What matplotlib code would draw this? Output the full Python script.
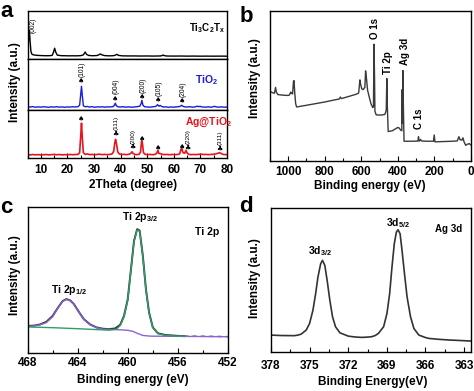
import matplotlib
matplotlib.use("Agg")
import matplotlib.pyplot as plt
from matplotlib.ticker import MultipleLocator

plt.rcParams['font.family'] = ['Liberation Sans', 'DejaVu Sans']
plt.rcParams['font.weight'] = 'bold'
plt.rcParams['mathtext.fontset'] = 'custom'
plt.rcParams['mathtext.rm'] = 'Liberation Sans:bold'
plt.rcParams['mathtext.it'] = 'Liberation Sans:bold'
plt.rcParams['mathtext.bf'] = 'Liberation Sans:bold'
plt.rcParams['mathtext.default'] = 'rm'

# ---- (a) XRD patterns, (2theta, normalised intensity)
ti3c2_pattern = [(5.0, 0.12), (5.35, 0.35), (5.7, 0.6), (6.0, 0.35), (6.3, 0.15), (6.7, 0.09),
                 (7.5, 0.078), (8.5, 0.07), (10.0, 0.066), (12.0, 0.062), (13.5, 0.064),
                 (14.3, 0.07), (14.8, 0.14), (15.2, 0.22), (15.6, 0.14), (16.2, 0.075),
                 (17.5, 0.064), (19.0, 0.062), (20.5, 0.06), (22.0, 0.061), (23.5, 0.06),
                 (25.0, 0.064), (26.0, 0.08), (26.7, 0.14), (27.2, 0.09), (28.0, 0.068),
                 (29.5, 0.062), (31.0, 0.066), (31.8, 0.08), (32.4, 0.10), (33.0, 0.08),
                 (34.0, 0.065), (35.5, 0.06), (37.0, 0.062), (37.9, 0.07), (38.6, 0.092),
                 (39.2, 0.07), (40.5, 0.06), (42.5, 0.058), (45.0, 0.058), (47.5, 0.056),
                 (50.0, 0.057), (52.5, 0.055), (55.0, 0.058), (55.6, 0.065), (56.0, 0.078),
                 (56.4, 0.064), (57.5, 0.056), (60.0, 0.055), (62.5, 0.056), (65.0, 0.054),
                 (67.5, 0.055), (70.0, 0.053), (72.5, 0.054), (75.0, 0.053), (77.5, 0.054),
                 (80.0, 0.053)]

tio2_pattern = [(5, 0.06), (6, 0.055), (7, 0.062), (8, 0.05), (9, 0.058), (10, 0.052), (11, 0.06),
                (12, 0.054), (13, 0.05), (14, 0.058), (15, 0.053), (16, 0.06), (17, 0.052),
                (18, 0.057), (19, 0.05), (20, 0.056), (21, 0.053), (22, 0.06), (23, 0.055),
                (24, 0.062), (24.6, 0.09), (25.0, 0.30), (25.3, 0.46), (25.6, 0.28), (26.0, 0.08),
                (26.6, 0.06), (27.4, 0.065), (28.3, 0.055), (29.2, 0.062), (30.2, 0.05),
                (31.2, 0.058), (32.2, 0.054), (33.1, 0.06), (34.0, 0.052), (35.0, 0.058),
                (36.0, 0.056), (37.2, 0.062), (37.7, 0.09), (38.0, 0.13), (38.4, 0.08),
                (39.0, 0.058), (40.0, 0.055), (41.0, 0.06), (42.0, 0.052), (43.0, 0.058),
                (44.0, 0.05), (45.0, 0.056), (46.0, 0.06), (47.2, 0.07), (47.7, 0.12),
                (48.0, 0.186), (48.4, 0.09), (49.0, 0.06), (50.0, 0.055), (51.0, 0.052),
                (52.0, 0.058), (53.2, 0.065), (53.9, 0.10), (54.4, 0.07), (54.8, 0.085),
                (55.1, 0.08), (55.5, 0.062), (56.2, 0.055), (57.0, 0.058), (58.0, 0.05),
                (59.0, 0.056), (60.0, 0.052), (61.0, 0.058), (62.0, 0.062), (62.6, 0.075),
                (63.0, 0.088), (63.4, 0.07), (64.0, 0.058), (65.0, 0.055), (66.0, 0.06),
                (67.0, 0.052), (68.0, 0.056), (68.8, 0.07), (69.3, 0.062), (69.9, 0.068),
                (70.4, 0.058), (71.0, 0.055), (72.0, 0.052), (73.0, 0.058), (74.0, 0.05),
                (74.8, 0.06), (75.3, 0.068), (76.0, 0.056), (77.0, 0.052), (78.0, 0.058),
                (79.0, 0.05), (80.0, 0.055)]

ag_tio2_pattern = [(5, 0.06), (6, 0.055), (7, 0.062), (8, 0.056), (9, 0.06), (10, 0.053),
                   (11, 0.058), (12, 0.062), (13, 0.055), (14, 0.06), (15, 0.065), (16, 0.058),
                   (17, 0.062), (18, 0.055), (19, 0.06), (20, 0.057), (21, 0.063), (22, 0.058),
                   (23, 0.062), (24, 0.065), (24.6, 0.1), (25.0, 0.45), (25.3, 0.72),
                   (25.6, 0.42), (26.0, 0.1), (26.7, 0.065), (27.5, 0.075), (28.4, 0.06),
                   (29.3, 0.065), (30.2, 0.058), (31.1, 0.063), (32.0, 0.07), (33.0, 0.06),
                   (34.0, 0.064), (35.0, 0.06), (36.0, 0.066), (36.8, 0.075), (37.4, 0.13),
                   (37.8, 0.30), (38.1, 0.38), (38.5, 0.28), (38.9, 0.12), (39.5, 0.075),
                   (40.4, 0.062), (41.3, 0.066), (42.2, 0.06), (43.2, 0.068), (43.8, 0.085),
                   (44.3, 0.12), (44.7, 0.085), (45.3, 0.065), (46.2, 0.06), (47.0, 0.068),
                   (47.5, 0.12), (47.9, 0.35), (48.2, 0.30), (48.6, 0.1), (49.3, 0.065),
                   (50.2, 0.06), (51.1, 0.065), (52.0, 0.058), (53.0, 0.066), (53.6, 0.09),
                   (54.0, 0.15), (54.4, 0.085), (55.0, 0.08), (55.5, 0.07), (56.4, 0.06),
                   (57.4, 0.064), (58.4, 0.058), (59.4, 0.063), (60.4, 0.06), (61.4, 0.064),
                   (62.2, 0.075), (62.7, 0.17), (63.0, 0.185), (63.5, 0.1), (64.1, 0.09),
                   (64.6, 0.15), (65.0, 0.095), (65.7, 0.065), (66.6, 0.06), (67.5, 0.064),
                   (68.4, 0.06), (69.3, 0.066), (70.2, 0.07), (71.1, 0.062), (72.0, 0.065),
                   (73.0, 0.06), (74.0, 0.064), (75.0, 0.068), (75.8, 0.075), (76.6, 0.09),
                   (77.2, 0.10), (77.8, 0.085), (78.5, 0.065), (79.3, 0.06), (80.0, 0.062)]

# peak markers / Miller indices (label values = bottom end of the rotated label)
tio2_peak_x = [25.2, 38.0, 48.0, 53.9, 63.1]
tio2_mark_y = [0.57, 0.22, 0.245, 0.185, 0.18]
tio2_hkl = ['(101)', '(004)', '(200)', '(105)', '(204)']
tio2_hkl_y = [0.65, 0.30, 0.33, 0.27, 0.26]

ag_anatase_x = [25.2, 48.0, 53.9, 62.9]
ag_anatase_y = [0.80, 0.39, 0.19, 0.21]
ag_peak_x = [38.2, 44.3, 65.0, 77.2]
ag_mark_y = [0.49, 0.21, 0.20, 0.175]
ag_hkl = ['(111)', '(200)', '(220)', '(311)']
ag_hkl_y = [0.58, 0.29, 0.28, 0.26]

# ---- (b) XPS survey, (binding energy, intensity)
survey = [(1100, 0.455), (1090, 0.458), (1080, 0.452), (1074, 0.451), (1068, 0.49), (1064, 0.46),
          (1056, 0.442), (1030, 0.438), (1000, 0.436), (993, 0.438), (985, 0.458), (981, 0.45),
          (975, 0.446), (970, 0.53), (967, 0.535), (963, 0.45), (958, 0.38), (953, 0.359),
          (900, 0.37), (850, 0.381), (800, 0.392), (750, 0.405), (720, 0.412), (714, 0.425),
          (708, 0.415), (660, 0.432), (625, 0.445), (614, 0.452), (607, 0.54), (603, 0.51),
          (597, 0.48), (590, 0.475), (580, 0.49), (576, 0.6), (572, 0.56), (565, 0.47),
          (555, 0.42), (546, 0.378), (537, 0.355), (533, 0.36), (530, 0.778), (527, 0.55),
          (525, 0.33), (518, 0.306), (490, 0.305), (471, 0.309), (466, 0.325), (463, 0.34),
          (460, 0.549), (458, 0.4), (456, 0.32), (452.6, 0.195), (430, 0.2), (410, 0.215),
          (400, 0.222), (392, 0.218), (385, 0.205), (378, 0.2), (377, 0.474), (374, 0.25),
          (372, 0.602), (370, 0.4), (366, 0.13), (320, 0.13), (290, 0.131), (287, 0.16),
          (283, 0.131), (275, 0.142), (271, 0.132), (240, 0.13), (205, 0.13), (201, 0.172),
          (197, 0.126), (150, 0.128), (100, 0.13), (75, 0.132), (66, 0.16), (60, 0.14),
          (56, 0.14), (50, 0.137), (44, 0.153), (38, 0.126), (29, 0.103), (20, 0.11),
          (10, 0.114), (0, 0.105)]
survey_labels = ['O 1s', 'Ti 2p', 'Ag 3d', 'C 1s']
survey_label_x = [527, 453, 359, 285]
survey_label_y = [0.81, 0.58, 0.64, 0.21]

# ---- (c) Ti 2p
ti2p_measured = [(468, 0.182), (467.5, 0.184), (467, 0.192), (466.5, 0.21), (466, 0.25),
                 (465.6, 0.303), (465.2, 0.352), (464.9, 0.366), (464.6, 0.357), (464.3, 0.332),
                 (463.9, 0.278), (463.5, 0.228), (463.0, 0.192), (462.5, 0.172), (462, 0.163),
                 (461.5, 0.16), (461.0, 0.165), (460.6, 0.19), (460.3, 0.25), (460.0, 0.365),
                 (459.75, 0.565), (459.5, 0.765), (459.25, 0.845), (459.05, 0.835),
                 (458.8, 0.665), (458.55, 0.435), (458.3, 0.275), (458.0, 0.172),
                 (457.6, 0.132), (457.0, 0.12), (456, 0.114), (455.5, 0.112)]
ti2p_tail = [(455.5, 0.112), (454, 0.111), (453, 0.11), (452, 0.109)]
ti2p_half = [(468, 0.18), (467.5, 0.182), (467, 0.19), (466.5, 0.205), (466, 0.245), (465.6, 0.3),
             (465.2, 0.35), (464.9, 0.364), (464.6, 0.355), (464.3, 0.33), (463.9, 0.275),
             (463.5, 0.225), (463.0, 0.19), (462.5, 0.17), (462, 0.16), (461.2, 0.157),
             (460.5, 0.155), (460, 0.152), (459.6, 0.145), (459.2, 0.13), (458.8, 0.117),
             (458.2, 0.112), (455, 0.11), (452, 0.108)]
ti2p_three_half = [(468, 0.175), (466, 0.17), (464, 0.163), (462.5, 0.157), (461.5, 0.153),
                   (460.9, 0.16), (460.6, 0.185), (460.3, 0.245), (460.0, 0.36), (459.75, 0.56),
                   (459.5, 0.76), (459.25, 0.84), (459.05, 0.83), (458.8, 0.66), (458.55, 0.43),
                   (458.3, 0.27), (458.0, 0.17), (457.6, 0.13), (457.0, 0.118), (456.3, 0.113),
                   (455.5, 0.111)]

# ---- (d) Ag 3d
ag3d = [(378, 0.117), (377.2, 0.114), (376.2, 0.113), (375.9, 0.117), (375.65, 0.124),
        (375.26, 0.152), (375.0, 0.198), (374.74, 0.29), (374.53, 0.405), (374.35, 0.52),
        (374.14, 0.611), (374.0, 0.634), (373.82, 0.60), (373.64, 0.497), (373.43, 0.359),
        (373.22, 0.244), (372.99, 0.175), (372.65, 0.133), (372.0, 0.11), (371.5, 0.104),
        (370.95, 0.101), (370.5, 0.103), (370.17, 0.106), (369.9, 0.114), (369.65, 0.129),
        (369.25, 0.175), (368.99, 0.267), (368.78, 0.405), (368.6, 0.589), (368.42, 0.749),
        (368.26, 0.83), (368.13, 0.846), (367.97, 0.818), (367.82, 0.703), (367.63, 0.543),
        (367.43, 0.382), (367.16, 0.244), (366.9, 0.163), (366.51, 0.117), (366.0, 0.1),
        (365.73, 0.094), (365.0, 0.088), (364.16, 0.083), (363.4, 0.08), (362.5, 0.076)]

W, H = 474, 391


def box(left, top, right, bottom):
    # pixel box of the picture -> figure fraction
    return [left / W, 1 - bottom / H, (right - left) / W, (bottom - top) / H]


def style(ax, labels=True):
    for s in ax.spines.values():
        s.set_linewidth(1.0)
    ax.set_yticks([])
    ax.tick_params(axis='x', which='both', direction='in', top=False,
                   width=0.8, labelsize=8.5, labelbottom=labels, bottom=labels)
    ax.tick_params(axis='x', which='major', length=3.5)
    ax.tick_params(axis='x', which='minor', length=2)


fig = plt.figure(figsize=(4.74, 3.91), dpi=100)

# ---------- panel a
a1 = fig.add_axes(box(27.5, 11, 227, 58.7))
a2 = fig.add_axes(box(27.5, 58.7, 227, 109.8))
a3 = fig.add_axes(box(27.5, 109.8, 227, 157.5))
for ax in (a1, a2, a3):
    ax.set_xlim(5, 80)
    ax.set_ylim(0, 1)
style(a1, False)
style(a2, False)
style(a3)
a3.xaxis.set_major_locator(MultipleLocator(10))
a3.xaxis.set_minor_locator(MultipleLocator(5))
a3.tick_params(axis='x', pad=5)

x, y = zip(*ti3c2_pattern)
a1.plot(x, y, color='black', lw=1.0)
a1.text(7.1, 0.7, '(002)', rotation=90, fontsize=4.8, weight='normal', ha='center', va='center')
a1.text(72.3, 0.65, r'Ti$_3$C$_2$T$_x$', fontsize=7, ha='center', va='center')

x, y = zip(*tio2_pattern)
a2.plot(x, y, color='#1a1adc', lw=1.0)
a2.text(72.2, 0.59, r'TiO$_2$', fontsize=7.5, color='#1a1adc', ha='center', va='center')
for i in range(len(tio2_peak_x)):
    a2.text(tio2_peak_x[i], tio2_mark_y[i], '♠', family=['DejaVu Sans'], fontsize=5,
            ha='center', va='center')
    a2.text(tio2_peak_x[i] + 0.4, tio2_hkl_y[i], tio2_hkl[i], rotation=90, fontsize=4.8,
            weight='normal', ha='center', va='bottom')

x, y = zip(*ag_tio2_pattern)
a3.plot(x, y, color='#e8141c', lw=1.2)
a3.text(73.2, 0.73, r'Ag@TiO$_2$', fontsize=7.5, color='#e8141c', ha='center', va='center')
for i in range(len(ag_anatase_x)):
    a3.text(ag_anatase_x[i], ag_anatase_y[i], '♠', family=['DejaVu Sans'], fontsize=5,
            ha='center', va='center')
for i in range(len(ag_peak_x)):
    a3.text(ag_peak_x[i], ag_mark_y[i], '♣', family=['DejaVu Sans'], fontsize=5,
            ha='center', va='center')
    a3.text(ag_peak_x[i] + 0.3, ag_hkl_y[i], ag_hkl[i], rotation=90, fontsize=4.6,
            weight='normal', ha='center', va='bottom')

fig.text(15 / W, 1 - 82 / H, 'Intensity (a.u.)', rotation=90, fontsize=8.5, ha='center', va='center')
fig.text(133 / W, 1 - 185 / H, '2Theta (degree)', fontsize=8.5, ha='center', va='center')
fig.text(0, 1 - 17 / H, 'a', fontsize=16, va='baseline')

# ---------- panel b
b = fig.add_axes(box(269.7, 11, 471, 160.7))
style(b)
x, y = zip(*survey)
b.plot(x, y, color='#3a3a3a', lw=1.0)
b.set_xlim(1100, 0)
b.set_ylim(0, 1)
b.xaxis.set_major_locator(MultipleLocator(200))
b.xaxis.set_minor_locator(MultipleLocator(100))
b.tick_params(axis='x', pad=4)
for i in range(len(survey_labels)):
    b.text(survey_label_x[i], survey_label_y[i], survey_labels[i], rotation=90, fontsize=7,
           ha='center', va='bottom')
fig.text(255.3 / W, 1 - 78 / H, 'Intensity (a.u.)', rotation=90, fontsize=8.5, ha='center', va='center')
fig.text(370 / W, 1 - 185.7 / H, 'Binding energy (eV)', fontsize=8.5, ha='center', va='center')
fig.text(240 / 474, 1 - 21.5 / H, 'b', fontsize=16, va='baseline')

# ---------- panel c
c = fig.add_axes(box(27.5, 206.5, 228, 352.5))
style(c)
x, y = zip(*ti2p_measured)
c.plot(x, y, color='#333333', lw=1.4)
x, y = zip(*ti2p_tail)
c.plot(x, y, color='#333333', lw=1.0, ls=(0, (3, 3)))
x, y = zip(*ti2p_half)
c.plot(x, y, color='#8a63d2', lw=1.0)
x, y = zip(*ti2p_three_half)
c.plot(x, y, color='#2e9e6a', lw=1.0)
c.set_xlim(468, 452)
c.set_ylim(0, 1)
c.xaxis.set_major_locator(MultipleLocator(4))
c.xaxis.set_minor_locator(MultipleLocator(2))
c.tick_params(axis='x', pad=3)
c.text(459.0, 0.93, r'Ti 2p$_{3/2}$', fontsize=7.5, ha='center', va='center')
c.text(453.7, 0.825, 'Ti 2p', fontsize=7.5, ha='center', va='center')
c.text(464.7, 0.43, r'Ti 2p$_{1/2}$', fontsize=7.5, ha='center', va='center')
fig.text(15 / W, 1 - 275 / H, 'Intensity (a.u.)', rotation=90, fontsize=8.5, ha='center', va='center')
fig.text(132.5 / W, 1 - 380 / H, 'Binding energy (eV)', fontsize=8.5, ha='center', va='center')
fig.text(0, 1 - 213 / H, 'c', fontsize=16, va='baseline')

# ---------- panel d
d = fig.add_axes(box(271, 207.5, 470.5, 352))
style(d)
x, y = zip(*ag3d)
d.plot(x, y, color='#333333', lw=1.2)
d.set_xlim(378, 362.5)
d.set_ylim(0, 1)
d.xaxis.set_major_locator(MultipleLocator(3))
d.xaxis.set_minor_locator(MultipleLocator(1.5))
d.tick_params(axis='x', pad=6)
d.text(374.2, 0.70, r'3d$_{3/2}$', fontsize=7.5, ha='center', va='center')
d.text(368.1, 0.89, r'3d$_{5/2}$', fontsize=7.5, ha='center', va='center')
d.text(364.2, 0.853, 'Ag 3d', fontsize=7, ha='center', va='center')
fig.text(255.3 / W, 1 - 278.5 / H, 'Intensity (a.u.)', rotation=90, fontsize=8.5, ha='center', va='center')
fig.text(373 / W, 1 - 381.7 / H, 'Binding Energy(eV)', fontsize=8.5, ha='center', va='center')
fig.text(239 / W, 1 - 211.7 / H, 'd', fontsize=16, va='baseline')

fig.savefig('out.png', dpi=100)
